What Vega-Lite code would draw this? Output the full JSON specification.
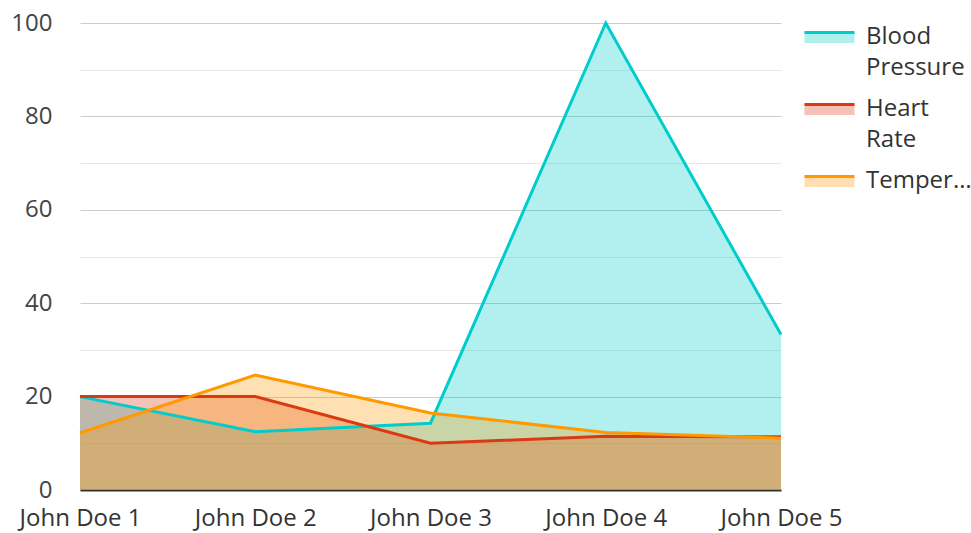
{
  "$schema": "https://vega.github.io/schema/vega-lite/v6.json",
  "width": 701,
  "height": 467,
  "autosize": {"type": "none"},
  "padding": {"left": 80, "top": 23, "right": 190, "bottom": 43},
  "background": "white",
  "config": {"font": "Open Sans", "view": {"stroke": null}},
  "data": {
    "values": [
      {"name": "John Doe 1", "series": "Blood Pressure", "value": 20},
      {"name": "John Doe 2", "series": "Blood Pressure", "value": 12.5},
      {"name": "John Doe 3", "series": "Blood Pressure", "value": 14.3},
      {"name": "John Doe 4", "series": "Blood Pressure", "value": 100},
      {"name": "John Doe 5", "series": "Blood Pressure", "value": 33.3},
      {"name": "John Doe 1", "series": "Heart Rate", "value": 20},
      {"name": "John Doe 2", "series": "Heart Rate", "value": 20},
      {"name": "John Doe 3", "series": "Heart Rate", "value": 10},
      {"name": "John Doe 4", "series": "Heart Rate", "value": 11.5},
      {"name": "John Doe 5", "series": "Heart Rate", "value": 11.4},
      {"name": "John Doe 1", "series": "Temperature", "value": 12.2},
      {"name": "John Doe 2", "series": "Temperature", "value": 24.6},
      {"name": "John Doe 3", "series": "Temperature", "value": 16.5},
      {"name": "John Doe 4", "series": "Temperature", "value": 12.3},
      {"name": "John Doe 5", "series": "Temperature", "value": 11.1}
    ]
  },
  "encoding": {
    "x": {
      "field": "name",
      "type": "ordinal",
      "scale": {"type": "point", "padding": 0},
      "axis": {
        "title": null,
        "labelAngle": 0,
        "labelFontSize": 24,
        "labelColor": "#333",
        "labelPadding": 16,
        "ticks": false,
        "grid": false,
        "domain": true,
        "domainColor": "#333",
        "domainWidth": 2
      }
    },
    "y": {
      "field": "value",
      "type": "quantitative",
      "stack": null,
      "scale": {"domain": [0, 100], "nice": false},
      "axis": {
        "title": null,
        "values": [0, 10, 20, 30, 40, 50, 60, 70, 80, 90, 100],
        "labelExpr": "datum.value % 20 === 0 ? datum.label : ''",
        "labelFontSize": 24,
        "labelColor": "#444",
        "labelPadding": 28,
        "ticks": false,
        "domain": false,
        "gridColor": {"condition": {"test": "datum.value % 20 === 0", "value": "#cccccc"}, "value": "#e8e8e8"},
        "gridWidth": 1
      }
    }
  },
  "layer": [
    {
      "mark": {"type": "area", "fillOpacity": 0.3},
      "encoding": {
        "color": {
          "field": "series",
          "type": "nominal",
          "scale": {"domain": ["Blood Pressure", "Heart Rate", "Temperature"], "range": ["#00CCCC", "#DC3912", "#FF9900"]},
          "legend": {
            "title": null,
            "orient": "none",
            "legendX": 723,
            "legendY": -13,
            "symbolType": "M-1,-0.18H1V0.26H-1Z",
            "symbolSize": 2500,
            "symbolOpacity": 0.3,
            "symbolStrokeWidth": 3,
            "symbolStrokeColor": "transparent",
            "labelExpr": "indexof(datum.label, ' ') > 0 ? split(datum.label, ' ') : datum.label",
            "labelLimit": 106,
            "labelFontSize": 24,
            "labelColor": "#333",
            "labelOffset": 10,
            "rowPadding": 2,
            "encode": {"labels": {"update": {"lineHeight": {"value": 31}}}}
          }
        }
      }
    },
    {
      "mark": {"type": "line", "strokeWidth": 3},
      "encoding": {
        "stroke": {
          "field": "series",
          "type": "nominal",
          "scale": {"range": ["#00CCCC", "#DC3912", "#FF9900"]},
          "legend": {
            "title": null,
            "orient": "none",
            "legendX": 723,
            "legendY": -13,
            "symbolType": "M-1,-0.16H1M0,-0.18ZM0,0.26Z",
            "symbolSize": 2500,
            "symbolStrokeWidth": 3,
            "symbolFillColor": "transparent",
            "labelExpr": "indexof(datum.label, ' ') > 0 ? split(datum.label, ' ') : datum.label",
            "labelLimit": 106,
            "labelFontSize": 24,
            "labelColor": "rgba(0,0,0,0)",
            "labelOffset": 10,
            "rowPadding": 2,
            "encode": {"labels": {"update": {"lineHeight": {"value": 31}}}}
          }
        }
      }
    }
  ]
}
